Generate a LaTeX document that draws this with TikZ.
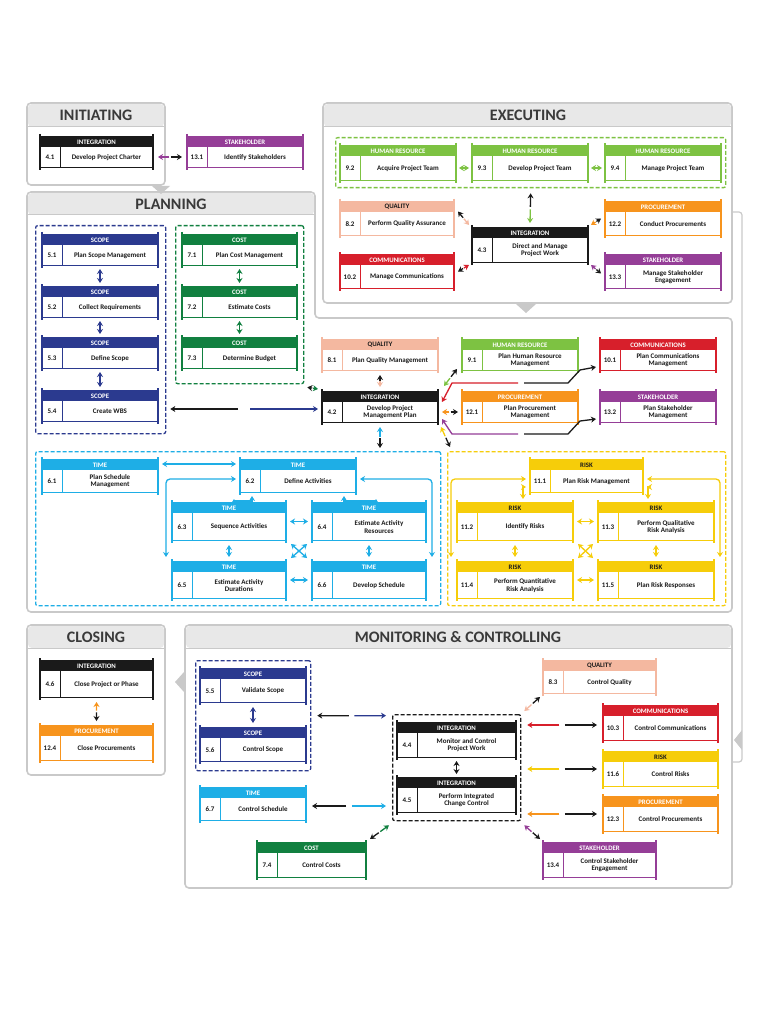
\documentclass[tikz,border=0pt]{standalone}
\usepackage{fontspec}
\setmainfont{Carlito}
\usetikzlibrary{calc,arrows.meta}
\definecolor{intc}{HTML}{1A1A1A}
\definecolor{scp}{HTML}{2B3A8F}
\definecolor{cst}{HTML}{118040}
\definecolor{tim}{HTML}{1EAEE6}
\definecolor{qua}{HTML}{F4B8A0}
\definecolor{hrc}{HTML}{7DC242}
\definecolor{com}{HTML}{D71F2B}
\definecolor{rsk}{HTML}{F6CD0A}
\definecolor{prc}{HTML}{F7941D}
\definecolor{stk}{HTML}{953E97}
\definecolor{pnl}{HTML}{C9C9C9}
\definecolor{pnh}{HTML}{E8E8E8}
\definecolor{ttl}{HTML}{3A3A3A}
\tikzset{
 arr/.style={line width=1.3pt,-{Stealth[length=5pt,width=6pt]}},
 barr/.style={line width=1.3pt,{Stealth[length=5pt,width=6pt]}-{Stealth[length=5pt,width=6pt]}},
 panel/.style={draw=pnl,line width=1.6pt,fill=white,rounded corners=4pt},
 ptitle/.style={font=\fontsize{16}{16}\selectfont\bfseries,text=ttl},
 hdrf/.style={font=\fontsize{6.8}{6.8}\selectfont\bfseries,inner sep=0},
 txtf/.style={font=\fontsize{7}{7.2}\selectfont\bfseries,inner sep=0,align=center,text=intc},
 grp/.style={line width=1.3pt,rounded corners=2pt,inner sep=0,anchor=north west,dash pattern=on 4pt off 2pt}
}
\newcommand\pbox[9][white]{%
 \node[draw=#6,line width=1pt,fill=white,minimum width=#4pt,minimum height=#5pt,inner sep=0,anchor=north west] (#2) at (#3) {};
 \fill[#6] (#2.north west) rectangle ($(#2.north east)+(0,11)$);
 \node[hdrf,text=#1] at ($(#2.north)+(0,5.8)$) {#7};
 \draw[#6,line width=0.7pt] ($(#2.north west)+(20,11)$) -- ($(#2.south west)+(20,0)$);
 \node[txtf] at ($(#2.west)+(10,5.5)$) {#8};
 \node[txtf] at ($(#2.center)+(10,5.5)$) {#9};
 \draw[#6,line width=2.2pt] ($(#2.north west)+(0,-2)$) -- ($(#2.south west)+(0,2)$);
 \draw[#6,line width=2.2pt] ($(#2.north east)+(0,-2)$) -- ($(#2.south east)+(0,2)$);
}
\newcommand\twoarr[4]{%
 \draw[arr,#3] ($(#1)!0.46!(#2)$) -- (#1);
 \draw[arr,#4] ($(#1)!0.54!(#2)$) -- (#2);
}
\begin{document}
\begin{tikzpicture}[x=1pt,y=-1pt]
\useasboundingbox (0,0) rectangle (768,1024);
% ---------- panels
\draw[panel] (27,103) rectangle (165,185);
\fill[pnh,rounded corners=4pt] (28,104) rectangle (164,127);
\draw[pnl,line width=1pt] (28,127) -- (164,127);
\node[ptitle] (tinit) at (96,115) {INITIATING};

\draw[panel] (323,103) rectangle (732,303);
\fill[pnh,rounded corners=4pt] (324,104) rectangle (731,127);
\draw[pnl,line width=1pt] (324,127) -- (731,127);
\node[ptitle] (texec) at (528,115) {EXECUTING};

\draw[panel] (27,192) -- (315,192) -- (315,318) -- (732,318) -- (732,612) -- (27,612) -- cycle;
\fill[pnh,rounded corners=4pt] (28,193) rectangle (314,215);
\draw[pnl,line width=1pt] (28,215) -- (314,215);
\node[ptitle] (tplan) at (171,204) {PLANNING};

\draw[panel] (27,625) rectangle (165,775);
\fill[pnh,rounded corners=4pt] (28,626) rectangle (164,648);
\draw[pnl,line width=1pt] (28,648) -- (164,648);
\node[ptitle] (tclos) at (96,637) {CLOSING};

\draw[panel] (185,625) rectangle (732,888);
\fill[pnh,rounded corners=4pt] (186,626) rectangle (731,648);
\draw[pnl,line width=1pt] (186,648) -- (731,648);
\node[ptitle] (tmon) at (458,637) {MONITORING \& CONTROLLING};

% connectors between phases
\fill[pnl] (152,186) -- (170,186) -- (161,194) -- cycle;
\fill[pnl] (516,304) -- (536,304) -- (526,313) -- cycle;
\fill[pnl] (184,672) -- (184,692) -- (175,682) -- cycle;
\draw[pnl,line width=1.2pt,rounded corners=3pt] (733,212) -- (742,212) -- (742,762) -- (733,762);
\fill[pnl] (742,730) -- (742,750) -- (734,740) -- cycle;

% ---------- INITIATING
\pbox{i41}{40,136}{112}{31}{intc}{INTEGRATION}{4.1}{Develop Project Charter}
\pbox{i131}{187,136}{115}{31}{stk}{STAKEHOLDER}{13.1}{Identify Stakeholders}
\twoarr{$(i41.east)+(5,5)$}{$(i131.west)+(-5,5)$}{stk}{intc}

% ---------- PLANNING left
\node[grp,draw=scp,minimum width=130pt,minimum height=208pt] (gsc) at (35,225) {};
\node[grp,draw=cst,minimum width=128pt,minimum height=158pt] (gco) at (175,225) {};
\pbox{p51}{42,234}{115}{31}{scp}{SCOPE}{5.1}{Plan Scope Management}
\pbox{p52}{42,286}{115}{31}{scp}{SCOPE}{5.2}{Collect Requirements}
\pbox{p53}{42,337}{115}{31}{scp}{SCOPE}{5.3}{Define Scope}
\pbox{p54}{42,390}{115}{31}{scp}{SCOPE}{5.4}{Create WBS}
\pbox{p71}{182,234}{114}{31}{cst}{COST}{7.1}{Plan Cost Management}
\pbox{p72}{182,286}{114}{31}{cst}{COST}{7.2}{Estimate Costs}
\pbox{p73}{182,337}{114}{31}{cst}{COST}{7.3}{Determine Budget}
\draw[barr,scp] ($(p51.south)+(0,3)$) -- ($(p52.north)+(0,-3)$);
\draw[barr,scp] ($(p52.south)+(0,3)$) -- ($(p53.north)+(0,-3)$);
\draw[barr,scp] ($(p53.south)+(0,3)$) -- ($(p54.north)+(0,-3)$);
\draw[barr,cst] ($(p71.south)+(0,3)$) -- ($(p72.north)+(0,-3)$);
\draw[barr,cst] ($(p72.south)+(0,3)$) -- ($(p73.north)+(0,-3)$);

% ---------- EXECUTING
\node[grp,draw=hrc,minimum width=390pt,minimum height=50pt] (ghr) at (335,137) {};
\pbox[white]{e92}{340,145}{115}{35}{hrc}{HUMAN RESOURCE}{9.2}{Acquire Project Team}
\pbox{e93}{472,145}{115}{35}{hrc}{HUMAN RESOURCE}{9.3}{Develop Project Team}
\pbox{e94}{605,145}{115}{35}{hrc}{HUMAN RESOURCE}{9.4}{Manage Project Team}
\pbox[intc]{e82}{340,201}{113}{34}{qua}{QUALITY}{8.2}{Perform Quality Assurance}
\pbox{e102}{340,254}{113}{34}{com}{COMMUNICATIONS}{10.2}{Manage Communications}
\pbox{e43}{472,227}{115}{35}{intc}{INTEGRATION}{4.3}{Direct and Manage\\Project Work}
\pbox{e122}{605,201}{115}{34}{prc}{PROCUREMENT}{12.2}{Conduct Procurements}
\pbox{e133}{605,254}{115}{34}{stk}{STAKEHOLDER}{13.3}{Manage Stakeholder\\Engagement}
\draw[barr,hrc] ($(e92.east)+(3,5)$) -- ($(e93.west)+(-3,5)$);
\draw[barr,hrc] ($(e93.east)+(3,5)$) -- ($(e94.west)+(-3,5)$);
\twoarr{$(e43.north)+(0,-4)$}{$(ghr.south)+(0,5)$}{hrc}{intc}
\twoarr{$(e82.east)+(4,-7)$}{$(e43.north west)+(-3,-2)$}{intc}{qua}
\twoarr{$(e102.east)+(4,0)$}{$(e43.south west)+(-3,2)$}{intc}{com}
\twoarr{$(e122.west)+(-4,0)$}{$(e43.north east)+(3,-2)$}{intc}{prc}
\twoarr{$(e133.west)+(-4,2)$}{$(e43.south east)+(3,2)$}{intc}{stk}

% ---------- PLANNING right
\pbox[intc]{p81}{322,339}{115}{31}{qua}{QUALITY}{8.1}{Plan Quality Management}
\pbox{p42}{322,391}{115}{31}{intc}{INTEGRATION}{4.2}{Develop Project\\Management Plan}
\pbox{p91}{462,339}{115}{31}{hrc}{HUMAN RESOURCE}{9.1}{Plan Human Resource\\Management}
\pbox{p121}{462,391}{115}{31}{prc}{PROCUREMENT}{12.1}{Plan Procurement\\Management}
\pbox{p101}{600,339}{115}{31}{com}{COMMUNICATIONS}{10.1}{Plan Communications\\Management}
\pbox{p132}{600,391}{115}{31}{stk}{STAKEHOLDER}{13.2}{Plan Stakeholder\\Management}
\twoarr{$(p81.south)+(0,4)$}{$(p42.north)+(0,-4)$}{intc}{qua}
\twoarr{$(p91.south west)+(-5,-2)$}{$(p42.east)+(6,-21)$}{intc}{hrc}
\twoarr{$(p121.west)+(-4,5)$}{$(p42.east)+(4,5)$}{intc}{prc}
\draw[arr,com] (518,383) -- (452,383) -- ($(p42.east)+(4,-5)$);
\draw[arr,intc] (524,383) -- (568,383) -- (580,370) -- ($(p101.west)+(-4,12)$);
\draw[arr,stk] (518,434) -- (452,434) -- ($(p42.east)+(4,12)$);
\draw[arr,intc] (524,434) -- (568,434) -- (580,421) -- ($(p132.west)+(-4,12)$);
\twoarr{$(gsc.east |- p42.west)+(4,2)$}{$(p42.west)+(-4,2)$}{intc}{scp}
\twoarr{$(gco.south east)+(3,3)$}{$(p42.north west)+(-4,-2)$}{intc}{cst}
\node[grp,draw=tim,minimum width=405pt,minimum height=154pt] (gti) at (35,451) {};
\node[grp,draw=rsk,minimum width=278pt,minimum height=154pt] (grk) at (447,451) {};
\twoarr{$(p42.south)+(0,4)$}{$(p42.south |- gti.north)+(0,-3)$}{tim}{intc}
\twoarr{$(p42.south east)+(3,4)$}{$(p42.south east)+(12,24)$}{rsk}{intc}

% ---------- TIME
\pbox{t61}{42,459}{115}{33}{tim}{TIME}{6.1}{Plan Schedule\\Management}
\pbox{t62}{240,459}{115}{33}{tim}{TIME}{6.2}{Define Activities}
\pbox{t63}{172,502}{113}{38}{tim}{TIME}{6.3}{Sequence Activities}
\pbox{t64}{312,502}{113}{38}{tim}{TIME}{6.4}{Estimate Activity\\Resources}
\pbox{t65}{172,561}{113}{37}{tim}{TIME}{6.5}{Estimate Activity\\Durations}
\pbox{t66}{312,561}{113}{37}{tim}{TIME}{6.6}{Develop Schedule}
\begin{scope}[tim]
\draw[barr] ($(t61.north east)+(4,5)$) -- ($(t62.north west)+(-4,5)$);
\draw[barr,rounded corners=4pt] ($(t62.west)+(-4,3)$) -| ($(t65.north west)+(-6,-4)$);
\draw[barr,rounded corners=4pt] ($(t62.east)+(4,3)$) -| ($(t66.north east)+(6,-4)$);
\draw[barr] ($(t62.south west)+(12,3)$) -- ++(0,5) -| ($(t63.north)+(5,-3)$);
\draw[barr] ($(t62.south east)+(-12,3)$) -- ++(0,5) -| ($(t64.north)+(7,-3)$);
\draw[barr] ($(t63.east)+(4,0)$) -- ($(t64.west)+(-4,0)$);
\draw[barr] ($(t65.east)+(4,0)$) -- ($(t66.west)+(-4,0)$);
\draw[barr] ($(t63.south)+(0,4)$) -- ($(t65.north)+(0,-4)$);
\draw[barr] ($(t64.south)+(0,4)$) -- ($(t66.north)+(0,-4)$);
\draw[barr] ($(t63.south east)+(5,3)$) -- ($(t66.north west)+(-5,-3)$);
\draw[barr] ($(t64.south west)+(-5,3)$) -- ($(t65.north east)+(5,-3)$);
\end{scope}

% ---------- RISK
\pbox[intc]{r111}{530,459}{112}{33}{rsk}{RISK}{11.1}{Plan Risk Management}
\pbox[intc]{r112}{457,502}{115}{38}{rsk}{RISK}{11.2}{Identify Risks}
\pbox[intc]{r113}{598,502}{115}{38}{rsk}{RISK}{11.3}{Perform Qualitative\\Risk Analysis}
\pbox[intc]{r114}{457,561}{115}{37}{rsk}{RISK}{11.4}{Perform Quantitative\\Risk Analysis}
\pbox[intc]{r115}{598,561}{115}{37}{rsk}{RISK}{11.5}{Plan Risk Responses}
\begin{scope}[rsk]
\draw[barr,rounded corners=4pt] ($(r111.west)+(-4,3)$) -| ($(r114.north west)+(-6,-4)$);
\draw[barr,rounded corners=4pt] ($(r111.east)+(4,3)$) -| ($(r115.north east)+(6,-4)$);
\draw[barr] ($(r111.south west)+(-4,-6)$) -| ($(r112.north)+(8,-3)$);
\draw[barr] ($(r111.south east)+(4,-6)$) -| ($(r113.north)+(-8,-3)$);
\draw[barr] ($(r112.east)+(4,0)$) -- ($(r113.west)+(-4,0)$);
\draw[barr] ($(r114.east)+(4,0)$) -- ($(r115.west)+(-4,0)$);
\draw[barr] ($(r112.south)+(0,4)$) -- ($(r114.north)+(0,-4)$);
\draw[barr] ($(r113.south)+(0,4)$) -- ($(r115.north)+(0,-4)$);
\draw[barr] ($(r112.south east)+(5,3)$) -- ($(r115.north west)+(-5,-3)$);
\draw[barr] ($(r113.south west)+(-5,3)$) -- ($(r114.north east)+(5,-3)$);
\end{scope}

% ---------- CLOSING
\pbox{c46}{40,660}{112}{37}{intc}{INTEGRATION}{4.6}{Close Project or Phase}
\pbox{c124}{40,725}{112}{35}{prc}{PROCUREMENT}{12.4}{Close Procurements}
\twoarr{$(c46.south)+(0,4)$}{$(c124.north)+(0,-4)$}{prc}{intc}

% ---------- MONITORING
\node[grp,draw=scp,minimum width=115pt,minimum height=110pt] (gms) at (195,660) {};
\node[grp,draw=intc,minimum width=128pt,minimum height=106pt] (gmi) at (392,714) {};
\pbox{m55}{200,668}{105}{34}{scp}{SCOPE}{5.5}{Validate Scope}
\pbox{m56}{200,727}{105}{34}{scp}{SCOPE}{5.6}{Control Scope}
\pbox{m67}{200,787}{105}{33}{tim}{TIME}{6.7}{Control Schedule}
\pbox{m74}{257,842}{108}{35}{cst}{COST}{7.4}{Control Costs}
\pbox{m44}{397,722}{118}{35}{intc}{INTEGRATION}{4.4}{Monitor and Control\\Project Work}
\pbox{m45}{397,777}{118}{35}{intc}{INTEGRATION}{4.5}{Perform Integrated\\Change Control}
\pbox[intc]{m83}{543,660}{112}{33}{qua}{QUALITY}{8.3}{Control Quality}
\pbox{m103}{603,705}{114}{35}{com}{COMMUNICATIONS}{10.3}{Control Communications}
\pbox[intc]{m116}{603,751}{114}{35}{rsk}{RISK}{11.6}{Control Risks}
\pbox{m123}{603,796}{114}{35}{prc}{PROCUREMENT}{12.3}{Control Procurements}
\pbox{m134}{543,842}{112}{35}{stk}{STAKEHOLDER}{13.4}{Control Stakeholder\\Engagement}
\draw[barr,scp] ($(m55.south)+(0,4)$) -- ($(m56.north)+(0,-4)$);
\draw[barr,intc] ($(m44.south)+(0,3)$) -- ($(m45.north)+(0,-3)$);
\twoarr{$(gms.east)+(6,0)$}{$(gmi.west |- gms.east)+(-6,0)$}{intc}{scp}
\twoarr{$(m67.east)+(6,2)$}{$(gmi.west |- m67.east)+(-6,2)$}{intc}{tim}
\twoarr{$(m74.north east)+(4,-3)$}{$(gmi.south west)+(-3,4)$}{intc}{cst}
\twoarr{$(m83.south west)+(-3,3)$}{$(gmi.north east)+(3,-3)$}{intc}{qua}
\twoarr{$(m103.west)+(-6,2)$}{$(gmi.east |- m103.west)+(6,2)$}{intc}{com}
\twoarr{$(m116.west)+(-6,0)$}{$(gmi.east |- m116.west)+(6,0)$}{intc}{rsk}
\twoarr{$(m123.west)+(-6,0)$}{$(gmi.east |- m123.west)+(6,0)$}{intc}{prc}
\twoarr{$(m134.north west)+(-3,-3)$}{$(gmi.south east)+(3,4)$}{intc}{stk}
\end{tikzpicture}
\end{document}
